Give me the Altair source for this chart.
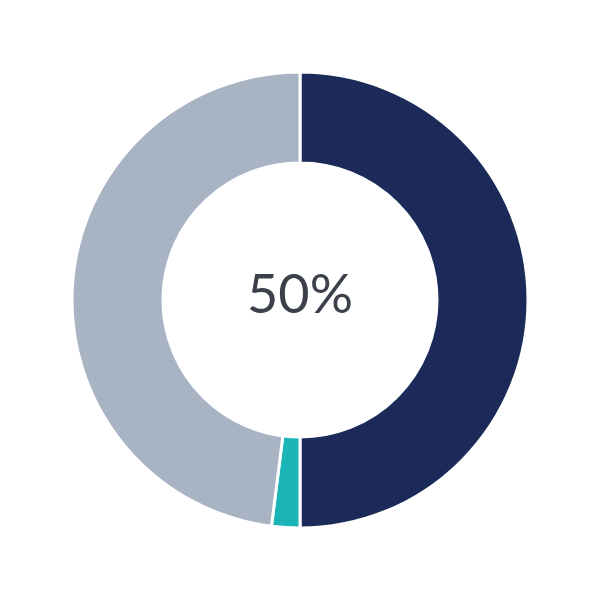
import altair as alt
import pandas as pd

categories = ["A", "B", "C"]
values = [50, 2, 48]
colors = ["#1b2a59", "#1bb5b7", "#a8b3c3"]
center_label = ["50%"]

df = pd.DataFrame({"cat": categories, "value": values, "order": [0, 1, 2]})

arc = alt.Chart(df).mark_arc(
    innerRadius=137, outerRadius=228, stroke="white", strokeWidth=3
).encode(
    theta=alt.Theta("value:Q", stack=True),
    color=alt.Color("cat:N", scale=alt.Scale(domain=categories, range=colors), legend=None),
    order=alt.Order("order:Q"),
)

text = alt.Chart(pd.DataFrame({"t": center_label})).mark_text(
    font="Lato", fontSize=54, color="#3b404b", baseline="middle", align="center", dy=-3
).encode(text="t:N")

chart = alt.layer(arc, text).properties(
    width=584, height=584, padding=0, autosize=alt.AutoSizeParams(type="none")
).configure_view(stroke=None)

chart.save("out.html", embed_options={"renderer": "svg", "actions": False})
